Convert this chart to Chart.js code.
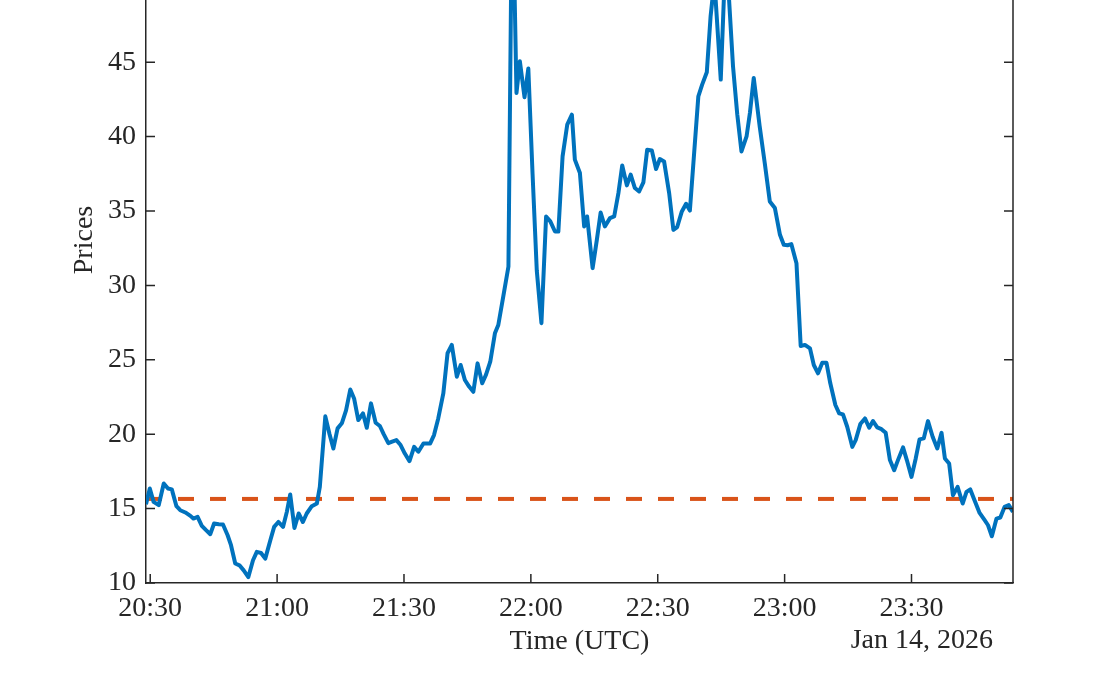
<!DOCTYPE html>
<html>
<head>
<meta charset="utf-8">
<script src="https://cdn.jsdelivr.net/npm/chart.js@4.4.1/dist/chart.umd.min.js"></script>
<style>
  html, body { margin: 0; padding: 0; background: #fff; overflow: hidden; }
  #wrap { position: absolute; left: 0; top: -133px; width: 1120px; height: 808px; }
</style>
</head>
<body>
<div id="wrap"><canvas id="chart"></canvas></div>
<script>
// minutes after 20:00 UTC
const times = [
  29.0, 29.9, 30.8, 32.0, 33.2, 34.2, 35.1, 36.2, 37.1, 38.3, 39.5, 40.2, 41.2, 42.2, 43.2, 44.2,
  45.1, 46.2, 47.2, 48.3, 49.1, 50.1, 51.1, 52.1, 53.2, 54.3, 55.2, 56.2, 57.2, 58.4, 59.3, 60.3,
  61.4, 62.3, 63.1, 64.1, 65.1, 66.1, 67.0, 68.2, 69.4, 70.1, 71.4, 72.4, 73.3, 74.3, 75.3, 76.3,
  77.3, 78.2, 79.2, 80.3, 81.2, 82.2, 83.3, 84.3, 85.2, 86.3, 87.2, 88.2, 89.2, 90.2, 91.3, 92.4,
  93.4, 94.6, 96.2, 97.1, 98.1, 99.3, 100.3, 101.3, 102.5, 103.4, 104.4, 105.4, 106.4, 107.4, 108.5, 109.4,
  110.4, 111.5, 112.3, 113.5, 114.7, 115.6, 116.6, 117.4, 118.5, 119.4, 120.4, 121.4, 122.5, 123.6, 124.6, 125.7,
  126.5, 127.5, 128.6, 129.7, 130.4, 131.6, 132.6, 133.3, 134.6, 135.6, 136.5, 137.5, 138.7, 139.7, 140.7, 141.6,
  142.7, 143.6, 144.6, 145.6, 146.6, 147.5, 148.6, 149.6, 150.5, 151.5, 152.7, 153.7, 154.6, 155.7, 156.7, 157.6,
  159.6, 160.5, 161.6, 162.5, 163.4, 164.9, 165.8, 166.7, 167.8, 168.8, 169.8, 171.0, 171.8, 172.7, 174.1, 175.3,
  176.5, 177.7, 178.9, 179.8, 180.7, 181.6, 182.8, 183.8, 184.8, 186.0, 186.9, 187.9, 188.9, 189.9, 190.8, 192.0,
  192.9, 193.8, 194.8, 196.0, 196.8, 197.9, 199.0, 200.0, 200.9, 201.9, 202.9, 203.9, 204.9, 205.9, 206.8, 208.0,
  208.9, 210.0, 211.0, 211.9, 212.9, 213.9, 215.0, 216.1, 217.1, 217.9, 218.9, 219.8, 220.9, 222.1, 223.0, 223.9,
  224.9, 226.1, 227.3, 228.1, 229.0, 230.1, 231.0, 232.0, 233.0, 234.0
];
const prices = [
  15.29, 16.35, 15.45, 15.23, 16.69, 16.35, 16.29, 15.16, 14.89, 14.74, 14.51, 14.33, 14.44, 13.84, 13.55, 13.28,
  14.0, 13.95, 13.93, 13.21, 12.54, 11.31, 11.19, 10.85, 10.4, 11.53, 12.09, 12.02, 11.64, 12.87, 13.77, 14.1,
  13.77, 14.78, 15.95, 13.7, 14.67, 14.1, 14.67, 15.16, 15.34, 16.46, 21.2, 20.0, 19.04, 20.39, 20.73, 21.6,
  23.0, 22.4, 20.95, 21.4, 20.43, 22.07, 20.77, 20.55, 20.0, 19.4, 19.5, 19.6, 19.27, 18.7, 18.19, 19.15,
  18.82, 19.38, 19.38, 19.94, 21.06, 22.74, 25.44, 26.0, 23.86, 24.65, 23.64, 23.2, 22.85, 24.76, 23.42, 24.0,
  24.87, 26.78, 27.34, 29.3, 31.27, 58.0, 42.93, 45.06, 42.64, 44.57, 37.5, 31.0, 27.46, 34.63, 34.3, 33.62,
  33.62, 38.67, 40.8, 41.47, 38.45, 37.55, 33.96, 34.63, 31.16, 33.06, 34.9, 33.96, 34.52, 34.63, 36.2, 38.06,
  36.72, 37.44, 36.54, 36.31, 36.92, 39.12, 39.07, 37.82, 38.49, 38.33, 36.2, 33.73, 33.92, 34.97, 35.48, 35.03,
  42.71, 43.49, 44.32, 48.09, 50.5, 43.83, 50.5, 50.0, 44.72, 41.5, 39.0, 40.01, 41.6, 43.94, 40.69, 38.22,
  35.64, 35.2, 33.4, 32.73, 32.7, 32.77, 31.49, 25.93, 26.0, 25.77, 24.65, 24.09, 24.8, 24.8, 23.42, 21.96,
  21.4, 21.33, 20.5, 19.15, 19.6, 20.68, 21.06, 20.43, 20.88, 20.46, 20.34, 20.09, 18.26, 17.58, 18.26, 19.11,
  18.26, 17.13, 18.37, 19.65, 19.72, 20.88, 19.83, 19.04, 20.09, 18.37, 18.03, 15.9, 16.46, 15.34, 16.12, 16.29,
  15.56, 14.71, 14.22, 13.88, 13.14, 14.33, 14.4, 15.11, 15.23, 14.78
];
const referencePrice = 15.65;

const xTicks = [30, 60, 90, 120, 150, 180, 210];
const xTickLabels = ['20:30', '21:00', '21:30', '22:00', '22:30', '23:00', '23:30'];
const yTicks = [10, 15, 20, 25, 30, 35, 40, 45];
const dateLabel = 'Jan 14, 2026';

const FONT = '"Liberation Serif", "Times New Roman", serif';
const INK = '#262626';

// MATLAB-style box: inward ticks on all sides, right border, date under the axis
const boxTicks = {
  id: 'boxTicks',
  afterDraw(chart) {
    const { ctx, chartArea: a, scales: { x, y } } = chart;
    ctx.save();
    ctx.strokeStyle = INK;
    ctx.lineWidth = 1.5;
    ctx.beginPath();
    ctx.moveTo(a.left, a.top); ctx.lineTo(a.right, a.top);
    ctx.moveTo(a.right, a.top); ctx.lineTo(a.right, a.bottom);
    for (const v of yTicks) {
      const py = y.getPixelForValue(v);
      ctx.moveTo(a.left, py); ctx.lineTo(a.left + 9, py);
      ctx.moveTo(a.right, py); ctx.lineTo(a.right - 9, py);
    }
    for (const v of xTicks) {
      const px = x.getPixelForValue(v);
      ctx.moveTo(px, a.bottom); ctx.lineTo(px, a.bottom - 9);
      ctx.moveTo(px, a.top); ctx.lineTo(px, a.top + 9);
    }
    ctx.stroke();
    ctx.fillStyle = INK;
    ctx.font = `28px ${FONT}`;
    ctx.textAlign = 'right';
    ctx.textBaseline = 'middle';
    ctx.fillText(dateLabel, a.right - 20, x.bottom - 34);
    ctx.restore();
  }
};

new Chart(document.getElementById('chart'), {
  type: 'line',
  data: {
    datasets: [{
      data: times.map((t, i) => ({ x: t, y: prices[i] })),
      borderColor: '#0072BD',
      borderWidth: 4,
      borderJoinStyle: 'round',
      pointRadius: 0,
      tension: 0,
    }, {
      data: [
        { x: times[0], y: referencePrice },
        { x: times[times.length - 1], y: referencePrice }
      ],
      borderColor: '#D95319',
      borderWidth: 4,
      borderDash: [16, 16],
      pointRadius: 0,
    }]
  },
  options: {
    responsive: true,
    maintainAspectRatio: false,
    animation: false,
    layout: { padding: { top: 30, right: 107, bottom: 0, left: 0 } },
    plugins: { legend: { display: false }, tooltip: { enabled: false } },
    scales: {
      x: {
        type: 'linear',
        min: times[0],
        max: times[times.length - 1],
        afterBuildTicks: s => { s.ticks = xTicks.map(v => ({ value: v })); },
        afterFit: s => { s.height = 92; },
        ticks: {
          callback: v => xTickLabels[xTicks.indexOf(v)] ?? '',
          color: INK,
          font: { family: FONT, size: 28 },
          padding: 9,
          maxRotation: 0,
          autoSkip: false,
        },
        grid: { display: false, drawTicks: false },
        border: { display: true, color: INK, width: 1.5 },
        title: {
          display: true, text: 'Time (UTC)', color: INK,
          font: { family: FONT, size: 28 },
          padding: { top: 0, bottom: 17 }
        }
      },
      y: {
        min: 10,
        max: 56.1,
        afterBuildTicks: s => { s.ticks = yTicks.map(v => ({ value: v })); },
        afterFit: s => { s.width = 146; },
        ticks: {
          color: INK,
          font: { family: FONT, size: 28 },
          padding: 10,
        },
        grid: { display: false, drawTicks: false },
        border: { display: true, color: INK, width: 1.5 },
        title: {
          display: true, text: 'Prices', color: INK,
          font: { family: FONT, size: 28 },
          padding: { top: 68, bottom: 0 }
        }
      }
    }
  },
  plugins: [boxTicks]
});
</script>
</body>
</html>
